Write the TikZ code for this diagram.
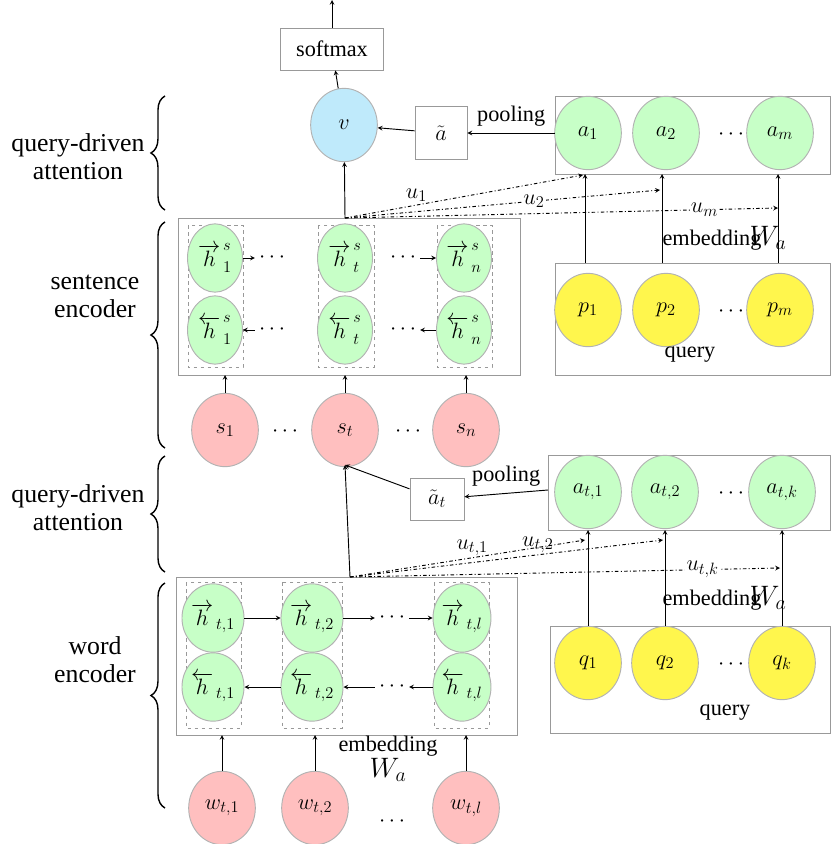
\RequirePackage{fix-cm}
\documentclass[tikz,border=0pt]{standalone}
\usepackage{fontspec}
\setmainfont{Liberation Serif}
\DeclareMathSizes{19}{19}{14}{10}
\DeclareMathSizes{24}{24}{17}{12}
\usetikzlibrary{arrows,shapes.geometric,decorations.pathreplacing,positioning}

\begin{document}
\begin{tikzpicture}[
	  x=0.03cm, y=-0.03cm,
	  >=stealth,
	  every node/.style={font=\fontsize{19}{22}\selectfont},
	  box/.style={draw=gray!80, thick, inner sep=0pt},
	  dbox/.style={draw=gray!80, thick, dashed, inner sep=0pt},
	  bigc/.style={ellipse, draw=gray!60, thick, minimum width=2cm, minimum height=2.2cm, inner sep=0pt},
	  hc/.style={ellipse, draw=gray!60, thick, fill=green!22, minimum width=1.65cm, minimum height=2.05cm, inner sep=0pt},
	  ac/.style={bigc, fill=green!22},
	  pc/.style={bigc, fill=yellow!70},
	  sc/.style={bigc, fill=red!25},
	  dd/.style={->, thick, dash dot},
	  arr/.style={->, thick},
	  wa/.style={font=\fontsize{24}{26}\selectfont},
	  brc/.style={decorate, decoration={brace, amplitude=12pt}, very thick},
	  lbl/.style={align=center, font=\fontsize{22}{24}\selectfont}
  ]
  \useasboundingbox (0,0) rectangle (834,844);

  % top part
  \node [box, minimum width=3.1cm, minimum height=1.26cm] (soft) at (332,49) {softmax};
  \coordinate (out) at (332,0);
  \node [bigc, fill=cyan!25] (v) at (344,125) {$v$};
  \node [box, minimum width=1.56cm, minimum height=1.6cm] (at) at (441,133) {$\tilde{a}$};

  \draw [box] (555,96) rectangle (830,174);
  \coordinate (abox) at (555,133);
  \node [ac] (a1) at (588,133) {$a_1$};
  \node [ac] (a2) at (666,133) {$a_2$};
  \node [ac] (am) at (780,133) {$a_m$};
  \node at (731,135) {$\cdots$};

  \draw [box] (555,263) rectangle (830,375);
  \node [pc] (p1) at (588,310) {$p_1$};
  \node [pc] (p2) at (666,310) {$p_2$};
  \node [pc] (pm) at (780,310) {$p_m$};
  \node at (731,312) {$\cdots$};
  \node at (690,355) {query};

  % sentence encoder
  \draw [box] (178,218) rectangle (520,375);
  \coordinate (sent) at (345,218);
  \draw [dbox] (188,225) rectangle (243,367);
  \draw [dbox] (318,225) rectangle (374,367);
  \draw [dbox] (437,225) rectangle (492,367);
  \node [hc] (f1) at (215,258) {$\overrightarrow{h}^{\,s}_{\,1}$};
  \node [hc] (ft) at (345,258) {$\overrightarrow{h}^{\,s}_{\,t}$};
  \node [hc] (fn) at (464,258) {$\overrightarrow{h}^{\,s}_{\,n}$};
  \node [hc] (b1) at (215,330) {$\overleftarrow{h}^{\,s}_{\,1}$};
  \node [hc] (bt) at (345,330) {$\overleftarrow{h}^{\,s}_{\,t}$};
  \node [hc] (bn) at (464,330) {$\overleftarrow{h}^{\,s}_{\,n}$};
  \node (fd1) at (272,258) {$\cdots$};
  \node (fd2) at (403,258) {$\cdots$};
  \node (bd1) at (272,330) {$\cdots$};
  \node (bd2) at (403,330) {$\cdots$};
  \draw [arr] (f1) -- (fd1);
  \draw [arr] (fd2) -- (fn);
  \draw [arr] (bd1) -- (b1);
  \draw [arr] (bn) -- (bd2);

  \node [sc] (s1) at (225,430) {$s_1$};
  \node [sc] (st) at (345,430) {$s_t$};
  \node [sc] (sn) at (466,430) {$s_n$};
  \node at (285,432) {$\cdots$};
  \node at (408,432) {$\cdots$};

  % connectors, top
  \draw [arr] (soft) -- (out);
  \draw [arr] (v) -- (soft);
  \draw [arr] (abox) -- (at) node [midway, above=2pt] {pooling};
  \draw [arr] (at) -- (v);
  \draw [arr] (sent) -- (v);
  \coordinate (u1) at (583,175);
  \coordinate (u2) at (660,190);
  \coordinate (um) at (778,208);
  \draw [dd] (sent) -- (u1) node [pos=0.3, above=-1pt] {$u_1$};
  \draw [dd] (sent) -- (u2) node [pos=0.6, fill=white, inner sep=1pt] {$u_2$};
  \draw [dd] (sent) -- (um) node [pos=0.83, fill=white, inner sep=1pt] {$u_m$};
  \foreach \x in {585,662,778} \draw [arr] (\x,263) -- (\x,174);
  \node at (712,240) {embedding};
  \node [wa] at (768,238) {$W_a$};
  \foreach \s in {s1,st,sn} \draw [arr] (\s) -- (\s |- 0,375);

  % lower attention
  \node [box, minimum width=1.62cm, minimum height=1.26cm] (att) at (437,499) {$\tilde{a}_t$};
  \draw [box] (548,455) rectangle (830,530);
  \coordinate (atbox) at (548,490);
  \node [ac] (at1) at (588,492) {$a_{t,1}$};
  \node [ac] (at2) at (665,492) {$a_{t,2}$};
  \node [ac] (atk) at (782,492) {$a_{t,k}$};
  \node at (731,494) {$\cdots$};

  \draw [box] (550,626) rectangle (830,733);
  \node [pc] (q1) at (588,663) {$q_1$};
  \node [pc] (q2) at (665,663) {$q_2$};
  \node [pc] (qk) at (782,663) {$q_k$};
  \node at (731,665) {$\cdots$};
  \node at (725,713) {query};

  % word encoder
  \draw [box] (176,577) rectangle (517,735);
  \coordinate (word) at (350,577);
  \draw [dbox] (186,582) rectangle (241,728);
  \draw [dbox] (282,582) rectangle (342,728);
  \draw [dbox] (434,582) rectangle (489,728);
  \node [hc] (wf1) at (213,618) {$\overrightarrow{h}_{\,t,1}$};
  \node [hc] (wf2) at (312,618) {$\overrightarrow{h}_{\,t,2}$};
  \node [hc] (wfl) at (462,618) {$\overrightarrow{h}_{\,t,l}$};
  \node [hc] (wb1) at (213,687) {$\overleftarrow{h}_{\,t,1}$};
  \node [hc] (wb2) at (312,687) {$\overleftarrow{h}_{\,t,2}$};
  \node [hc] (wbl) at (462,687) {$\overleftarrow{h}_{\,t,l}$};
  \node (wfd) at (392,618) {$\cdots$};
  \node (wbd) at (392,687) {$\cdots$};
  \draw [arr] (wf1) -- (wf2);
  \draw [arr] (wf2) -- (wfd);
  \draw [arr] (wfd) -- (wfl);
  \draw [arr] (wb2) -- (wb1);
  \draw [arr] (wbd) -- (wb2);
  \draw [arr] (wbl) -- (wbd);

  \node [sc] (w1) at (222,808) {$w_{t,1}$};
  \node [sc] (w2) at (315,808) {$w_{t,2}$};
  \node [sc] (wl) at (466,808) {$w_{t,l}$};
  \node at (392,822) {$\cdots$};
  \node at (388,746) {embedding};
  \node [wa] at (388,770) {$W_a$};
  \foreach \w in {w1,w2,wl} \draw [arr] (\w) -- (\w |- 0,735);

  % connectors, lower
  \coordinate (stb) at (345,465);
  \draw [arr] (word) -- (stb);
  \draw [arr] (atbox) -- (att) node [midway, above=2pt] {pooling};
  \draw [arr] (att) -- (stb);
  \coordinate (ut1) at (585,540);
  \coordinate (ut2) at (663,540);
  \coordinate (utk) at (780,568);
  \draw [dd] (word) -- (ut1) node [pos=0.52, above=-2pt] {$u_{t,1}$};
  \draw [dd] (word) -- (ut2) node [pos=0.6, above=-2pt] {$u_{t,2}$};
  \draw [dd] (word) -- (utk) node [pos=0.82, fill=white, inner sep=1pt] {$u_{t,k}$};
  \foreach \x in {588,665,782} \draw [arr] (\x,626) -- (\x,530);
  \node at (712,600) {embedding};
  \node [wa] at (768,598) {$W_a$};

  % braces
  \draw [brc] (165,210) -- (165,96);
  \draw [brc] (165,448) -- (165,222);
  \draw [brc] (165,572) -- (165,456);
  \draw [brc] (165,808) -- (165,583);
  \node [lbl] at (78,157) {query-driven\\attention};
  \node [lbl] at (95,296) {sentence\\encoder};
  \node [lbl] at (78,508) {query-driven\\attention};
  \node [lbl] at (95,660) {word\\encoder};
\end{tikzpicture}
\end{document}
